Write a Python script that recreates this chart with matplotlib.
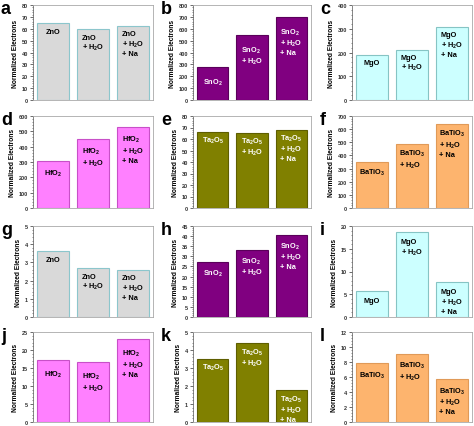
import matplotlib
matplotlib.use("Agg")
import matplotlib.pyplot as plt
from matplotlib.ticker import MultipleLocator, AutoMinorLocator

plt.rcParams['font.family'] = ['Liberation Sans', 'DejaVu Sans']
plt.rcParams['font.weight'] = 'bold'
plt.rcParams['mathtext.fontset'] = 'custom'
plt.rcParams['mathtext.rm'] = 'Liberation Sans:bold'
plt.rcParams['mathtext.it'] = 'Liberation Sans:bold'
plt.rcParams['mathtext.bf'] = 'Liberation Sans:bold'
plt.rcParams['mathtext.default'] = 'rm'

# ---- data ----
panel_letters = ['a', 'b', 'c', 'd', 'e', 'f', 'g', 'h', 'i', 'j', 'k', 'l']
materials = ['ZnO', 'SnO$_2$', 'MgO', 'HfO$_2$', 'Ta$_2$O$_5$', 'BaTiO$_3$']
conditions = ['', '\n+ H$_2$O', '\n+ H$_2$O\n+ Na']

zno_top = [64.5, 59.5, 62.5]
sno2_top = [275, 550, 700]
mgo_top = [190, 212, 307]
hfo2_top = [307, 448, 528]
ta2o5_top = [66.5, 65.5, 68.2]
batio3_top = [348, 488, 640]

zno_bottom = [3.6, 2.67, 2.58]
sno2_bottom = [27.3, 33.2, 40.6]
mgo_bottom = [5.7, 18.6, 7.6]
hfo2_bottom = [17.3, 16.7, 23.0]
ta2o5_bottom = [3.52, 4.38, 1.77]
batio3_bottom = [7.85, 9.1, 5.7]

panel_values = [zno_top, sno2_top, mgo_top, hfo2_top, ta2o5_top, batio3_top,
                zno_bottom, sno2_bottom, mgo_bottom, hfo2_bottom, ta2o5_bottom, batio3_bottom]
y_max = [80, 800, 400, 600, 80, 700, 5, 45, 20, 25, 5, 12]
y_step = [10, 100, 100, 100, 10, 100, 1, 5, 5, 5, 1, 2]

# ---- styles ----
fill_colors = ['#D9D9D9', '#800080', '#CCFFFF', '#FF80FF', '#808000', '#FDB46E']
edge_colors = ['#8CC6CC', '#5A005A', '#86C4C4', '#C850C8', '#5E5E00', '#E09A58']
text_colors = ['black', 'white', 'black', 'black', 'white', 'black']
text_offsets = [3, 7, 3, 5, 2, 3, 3, 4, 4, 6.5, 2.5, 4.5]  # points below bar top

W, H = 474, 427
fig = plt.figure(figsize=(W / 100, H / 100), dpi=100)

col_x = [(33, 153), (193, 311), (352, 472)]
row_y = [(6, 101), (117, 209), (227, 318), (333, 423)]

for i in range(12):
    r, c = divmod(i, 3)
    x0, x1 = col_x[c]
    y0, y1 = row_y[r]
    ax = fig.add_axes([x0 / W, 1 - y1 / H, (x1 - x0) / W, (y1 - y0) / H])
    m = i % 6
    vals = panel_values[i]
    xs = range(len(vals))
    ax.bar(xs, vals, width=0.8, color=fill_colors[m], edgecolor=edge_colors[m], linewidth=0.8)
    ax.set_xlim(-0.5, 2.5)
    ax.set_ylim(0, y_max[i])
    ax.yaxis.set_major_locator(MultipleLocator(y_step[i]))
    ax.yaxis.set_minor_locator(AutoMinorLocator(5))
    ax.set_xticks([])
    ax.tick_params(axis='y', which='major', labelsize=4, length=2, width=0.5, pad=1.5, colors='#333333')
    ax.tick_params(axis='y', which='minor', length=1, width=0.4, colors='#333333')
    for lbl in ax.get_yticklabels():
        lbl.set_fontweight('bold')
    for s in ['top', 'right', 'bottom']:
        ax.spines[s].set_color('#A8A8A8')
        ax.spines[s].set_linewidth(0.6)
    ax.spines['left'].set_color('#555555')
    ax.spines['left'].set_linewidth(0.5)
    ax.set_ylabel('Normalized Electrons', fontsize=4.8, fontweight='bold', labelpad=2)
    for k, v in enumerate(vals):
        ax.annotate(materials[m] + conditions[k], xy=(k, v), xytext=(0, -text_offsets[i]),
                    textcoords='offset points', ha='center', va='top', multialignment='left',
                    fontsize=5.3, fontweight='bold', color=text_colors[m], linespacing=1.2,
                    zorder=5)
    fig.text((x0 - 33) / W + 0.002, 1 - (y0 - 5) / H, panel_letters[i],
             fontsize=13, fontweight='bold', ha='left', va='top')

fig.savefig('out.png', dpi=100)
